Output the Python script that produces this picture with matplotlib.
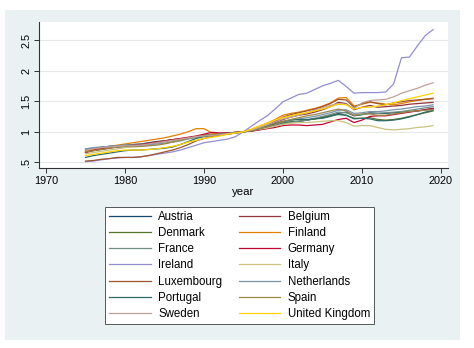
import matplotlib.pyplot as plt
from matplotlib.patches import Rectangle
import numpy as np

plt.rcParams['font.family'] = ['Liberation Sans', 'DejaVu Sans']

# 年（1995年 = 1 に基準化した指数）
years = list(range(1975, 2020))

austria = [0.70, 0.72, 0.74, 0.76, 0.77, 0.78, 0.79, 0.80, 0.82, 0.84,
           0.85, 0.87, 0.88, 0.90, 0.92, 0.94, 0.95, 0.96, 0.97, 0.98,
           1.00, 1.02, 1.05, 1.08, 1.11, 1.14, 1.16, 1.17, 1.19, 1.21,
           1.23, 1.26, 1.30, 1.32, 1.26, 1.28, 1.31, 1.30, 1.30, 1.31,
           1.32, 1.33, 1.34, 1.36, 1.38]
belgium = [0.66, 0.69, 0.71, 0.73, 0.75, 0.76, 0.77, 0.78, 0.80, 0.82,
           0.84, 0.86, 0.88, 0.90, 0.92, 0.94, 0.96, 0.97, 0.98, 0.99,
           1.00, 1.03, 1.06, 1.10, 1.15, 1.20, 1.24, 1.27, 1.29, 1.32,
           1.36, 1.41, 1.48, 1.46, 1.36, 1.40, 1.43, 1.40, 1.41, 1.42,
           1.43, 1.45, 1.46, 1.47, 1.48]
denmark = [0.68, 0.70, 0.72, 0.74, 0.75, 0.76, 0.77, 0.79, 0.81, 0.83,
           0.85, 0.87, 0.88, 0.90, 0.92, 0.93, 0.95, 0.96, 0.98, 0.99,
           1.00, 1.03, 1.06, 1.09, 1.12, 1.15, 1.16, 1.17, 1.19, 1.21,
           1.24, 1.27, 1.28, 1.27, 1.22, 1.22, 1.23, 1.20, 1.19, 1.20,
           1.22, 1.25, 1.28, 1.31, 1.34]
finland = [0.68, 0.71, 0.74, 0.76, 0.78, 0.80, 0.82, 0.84, 0.86, 0.88,
           0.90, 0.93, 0.96, 1.00, 1.05, 1.05, 0.98, 0.96, 0.96, 0.98,
           1.00, 1.04, 1.09, 1.14, 1.20, 1.27, 1.30, 1.32, 1.35, 1.38,
           1.42, 1.47, 1.55, 1.56, 1.42, 1.45, 1.48, 1.47, 1.45, 1.44,
           1.46, 1.49, 1.51, 1.53, 1.55]
france = [0.72, 0.73, 0.75, 0.76, 0.77, 0.78, 0.79, 0.80, 0.81, 0.82,
          0.83, 0.85, 0.87, 0.89, 0.91, 0.93, 0.94, 0.95, 0.97, 0.98,
          1.00, 1.01, 1.03, 1.06, 1.09, 1.13, 1.15, 1.17, 1.19, 1.22,
          1.25, 1.28, 1.32, 1.31, 1.27, 1.28, 1.30, 1.30, 1.31, 1.32,
          1.33, 1.35, 1.37, 1.39, 1.41]
germany = [0.66, 0.70, 0.72, 0.74, 0.76, 0.77, 0.78, 0.79, 0.81, 0.83,
           0.85, 0.87, 0.89, 0.91, 0.93, 0.96, 0.99, 0.98, 0.98, 0.99,
           1.00, 1.01, 1.03, 1.05, 1.07, 1.10, 1.11, 1.11, 1.10, 1.11,
           1.12, 1.16, 1.20, 1.22, 1.15, 1.19, 1.25, 1.26, 1.26, 1.28,
           1.30, 1.32, 1.34, 1.36, 1.38]
ireland = [0.51, 0.52, 0.54, 0.56, 0.57, 0.58, 0.58, 0.59, 0.61, 0.63,
           0.65, 0.67, 0.70, 0.74, 0.78, 0.82, 0.84, 0.86, 0.88, 0.92,
           1.00, 1.09, 1.18, 1.26, 1.37, 1.49, 1.55, 1.61, 1.63, 1.69,
           1.75, 1.79, 1.84, 1.74, 1.63, 1.64, 1.64, 1.64, 1.65, 1.78,
           2.21, 2.22, 2.40, 2.57, 2.67]
italy = [0.64, 0.66, 0.68, 0.70, 0.72, 0.74, 0.75, 0.76, 0.78, 0.80,
         0.82, 0.84, 0.86, 0.89, 0.91, 0.93, 0.94, 0.95, 0.96, 0.98,
         1.00, 1.02, 1.04, 1.06, 1.09, 1.12, 1.14, 1.15, 1.15, 1.16,
         1.17, 1.18, 1.18, 1.15, 1.09, 1.10, 1.10, 1.07, 1.04, 1.03,
         1.04, 1.05, 1.07, 1.08, 1.10]
luxembourg = [0.52, 0.53, 0.55, 0.56, 0.58, 0.58, 0.58, 0.59, 0.61, 0.64,
              0.67, 0.70, 0.74, 0.79, 0.85, 0.89, 0.92, 0.94, 0.96, 0.98,
              1.00, 1.02, 1.06, 1.11, 1.17, 1.24, 1.28, 1.31, 1.34, 1.37,
              1.41, 1.46, 1.53, 1.52, 1.40, 1.46, 1.49, 1.46, 1.44, 1.47,
              1.49, 1.51, 1.52, 1.53, 1.54]
netherlands = [0.72, 0.74, 0.75, 0.76, 0.77, 0.78, 0.78, 0.78, 0.79, 0.80,
               0.81, 0.83, 0.85, 0.88, 0.91, 0.93, 0.95, 0.96, 0.97, 0.98,
               1.00, 1.02, 1.05, 1.08, 1.12, 1.16, 1.19, 1.21, 1.23, 1.25,
               1.28, 1.31, 1.35, 1.36, 1.30, 1.31, 1.33, 1.33, 1.34, 1.36,
               1.37, 1.39, 1.41, 1.42, 1.44]
portugal = [0.58, 0.61, 0.63, 0.65, 0.67, 0.69, 0.70, 0.70, 0.71, 0.72,
            0.73, 0.75, 0.79, 0.84, 0.89, 0.92, 0.94, 0.96, 0.97, 0.98,
            1.00, 1.02, 1.05, 1.09, 1.13, 1.17, 1.19, 1.20, 1.20, 1.21,
            1.22, 1.25, 1.29, 1.27, 1.21, 1.22, 1.21, 1.18, 1.18, 1.19,
            1.21, 1.24, 1.28, 1.32, 1.35]
spain = [0.67, 0.69, 0.71, 0.73, 0.75, 0.76, 0.76, 0.76, 0.77, 0.78,
         0.80, 0.83, 0.86, 0.89, 0.92, 0.94, 0.95, 0.96, 0.97, 0.98,
         1.00, 1.02, 1.05, 1.08, 1.12, 1.17, 1.20, 1.23, 1.26, 1.28,
         1.31, 1.34, 1.37, 1.34, 1.27, 1.29, 1.29, 1.27, 1.27, 1.29,
         1.31, 1.33, 1.34, 1.35, 1.36]
sweden = [0.70, 0.72, 0.74, 0.75, 0.76, 0.77, 0.77, 0.78, 0.80, 0.82,
          0.84, 0.86, 0.88, 0.90, 0.92, 0.93, 0.94, 0.95, 0.97, 0.98,
          1.00, 1.03, 1.07, 1.11, 1.16, 1.21, 1.24, 1.27, 1.31, 1.35,
          1.39, 1.43, 1.46, 1.45, 1.38, 1.47, 1.51, 1.52, 1.53, 1.57,
          1.63, 1.67, 1.71, 1.76, 1.80]
uk = [0.61, 0.63, 0.65, 0.67, 0.69, 0.70, 0.70, 0.70, 0.71, 0.72,
      0.74, 0.76, 0.79, 0.83, 0.86, 0.89, 0.91, 0.93, 0.96, 0.98,
      1.00, 1.04, 1.09, 1.14, 1.19, 1.23, 1.26, 1.29, 1.31, 1.34,
      1.37, 1.41, 1.45, 1.44, 1.37, 1.40, 1.40, 1.42, 1.44, 1.47,
      1.51, 1.54, 1.57, 1.60, 1.63]

countries = ["Austria", "Belgium", "Denmark", "Finland", "France", "Germany",
             "Ireland", "Italy", "Luxembourg", "Netherlands", "Portugal",
             "Spain", "Sweden", "United Kingdom"]
series = [austria, belgium, denmark, finland, france, germany, ireland,
          italy, luxembourg, netherlands, portugal, spain, sweden, uk]

# Stata s2color の線色
colors = ["#1a476f", "#90353b", "#55752f", "#e37e00", "#6e8e84", "#c10534",
          "#938dd2", "#cac27e", "#a0522d", "#7b92a8", "#2d6d66", "#9c8847",
          "#bfa19c", "#ffd200"]

fig = plt.figure(figsize=(4.74, 3.48), dpi=100)
fig.patch.set_facecolor("white")
# グラフ領域の背景
fig.add_artist(Rectangle((5 / 474, 1 - 340 / 348), 455 / 474, 330 / 348,
                         transform=fig.transFigure, facecolor="#e9f1f3",
                         edgecolor="none", zorder=0))

ax = fig.add_axes([39 / 474, 1 - 168 / 348, 409 / 474, 146 / 348])
ax.set_facecolor("white")

lines = []
for name, vals, c in zip(countries, series, colors):
    ln, = ax.plot(years, vals, color=c, lw=0.9, label=name)
    lines.append(ln)

ax.set_xlim(1969.11, 2020.89)
ax.set_ylim(0.407, 2.794)
ax.set_xticks([1970, 1980, 1990, 2000, 2010, 2020])
ax.set_yticks([0.5, 1, 1.5, 2, 2.5])
ax.set_yticklabels([".5", "1", "1.5", "2", "2.5"], rotation=90, va="center")
ax.grid(axis="y", color="#e6e9ea", lw=0.8)
ax.set_axisbelow(True)
for s in ["top", "right"]:
    ax.spines[s].set_visible(False)
for s in ["left", "bottom"]:
    ax.spines[s].set_color("#333333")
    ax.spines[s].set_linewidth(0.8)
ax.tick_params(labelsize=7.8, length=3.5, width=0.7, color="#333333", pad=2)
ax.set_xlabel("year", fontsize=8.2, labelpad=1)

# 凡例は行方向に並べる
order = list(range(0, 14, 2)) + list(range(1, 14, 2))
leg = fig.legend([lines[i] for i in order], [countries[i] for i in order],
                 ncol=2, loc="upper left",
                 bbox_to_anchor=(105 / 474, 1 - 207 / 348),
                 fontsize=8.3, handlelength=3.6, handletextpad=0.65,
                 columnspacing=1.45, labelspacing=0.36, borderpad=0.35,
                 borderaxespad=0, fancybox=False, framealpha=1,
                 edgecolor="#555555")
leg.get_frame().set_linewidth(0.7)

fig.savefig("out.png", dpi=100)
